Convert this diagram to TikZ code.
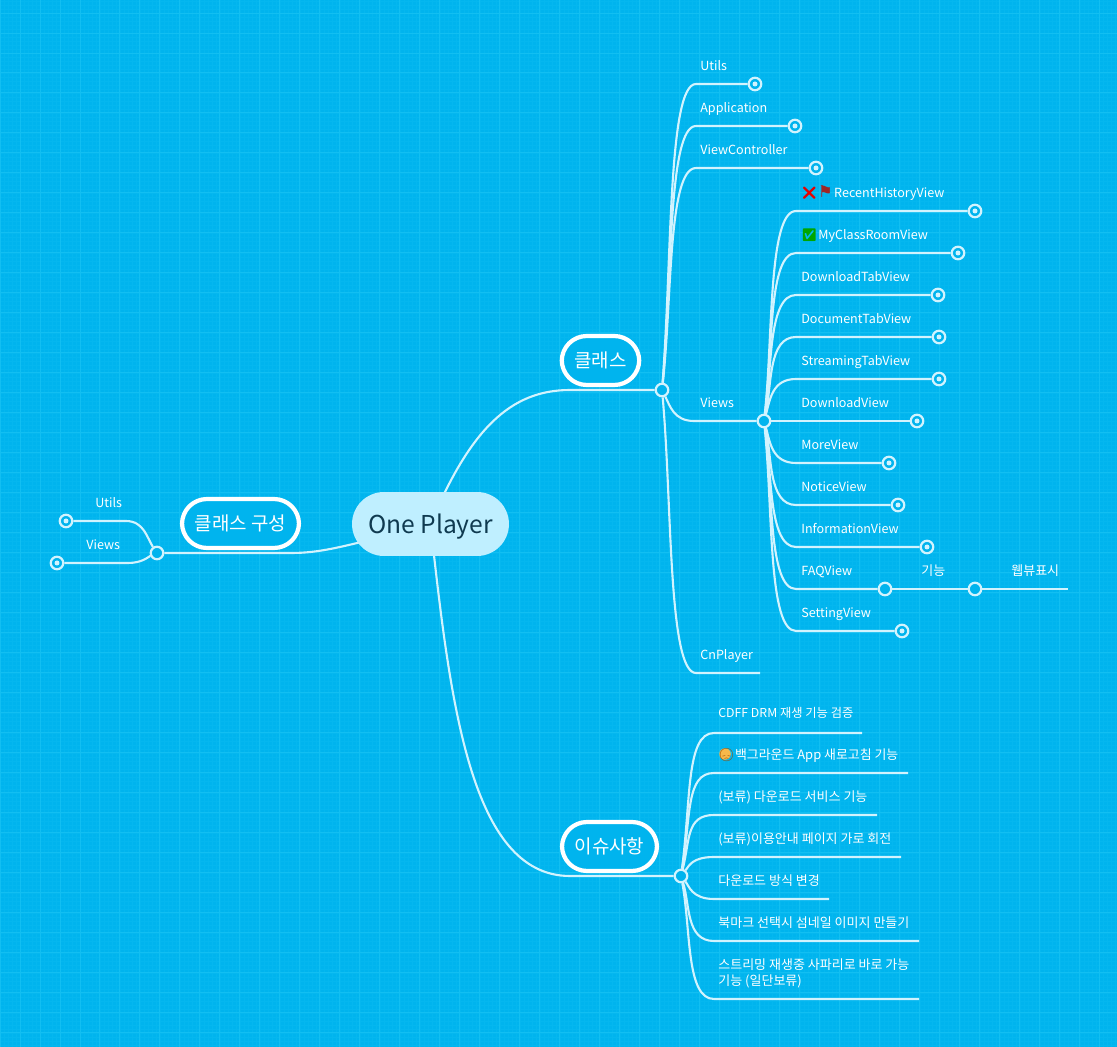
\documentclass[tikz,border=0pt]{standalone}
\usepackage{fontspec}
\setmainfont{Noto Sans CJK KR}
\newfontfamily\emojifont{Noto Emoji}
\newfontfamily\symbolfont[Scale=1.3]{DejaVu Sans}
\usetikzlibrary{backgrounds}
\definecolor{sheet}{HTML}{00B4EE}
\definecolor{gridmajor}{HTML}{12BFF2}
\definecolor{gridminor}{HTML}{05B7EF}
\definecolor{wire}{HTML}{D2F3FE}
\definecolor{rootfill}{HTML}{BFEFFF}
\definecolor{roottext}{HTML}{0F3A50}
\definecolor{sadfill}{HTML}{F7B84A}
\newcommand{\emoji}[2]{\textcolor{#1}{\emojifont #2}}

\begin{document}
\begin{tikzpicture} [x=0.02cm, y=-0.02cm,
  root/.style={rectangle, rounded corners=0.64cm, fill=rootfill, text=roottext, minimum width=3.14cm, minimum height=1.28cm, font=\fontsize{14}{16}\selectfont, text height=0.46cm, text depth=0.06cm},
  pill/.style={rectangle, rounded corners=0.5cm, draw=white, line width=2.4pt, fill=sheet, text=white, minimum height=0.98cm, font=\fontsize{10.8}{13}\selectfont},
  joint/.style={circle, draw=wire, line width=1.25pt, fill=sheet, minimum size=0.25cm, inner sep=0pt},
  leaf/.style={joint, path picture={\fill[wire] (path picture bounding box.center) circle (0.05cm);}},
  label/.style={anchor=west, inner sep=0pt, text=white, font=\fontsize{7.15}{9}\selectfont, text height=0.29cm, text depth=0.05cm},
  hangul/.style={label, font=\fontsize{7.4}{9}\selectfont},
  branch/.style={draw=wire, line width=1.2pt}]
  \useasboundingbox (0,0) rectangle (1117,1047);

  % Topics
  \node [root] (player) at (430.5,524) {One Player};
  \node [pill, minimum width=1.55cm] (classes) at (600.5,360.5) {클래스};
  \node [pill, minimum width=1.9cm] (issues) at (609.5,846.5) {이슈사항};
  \node [pill, minimum width=2.34cm] (layout) at (240.5,523.5) {클래스 구성};

  % Joints
  \node [joint] (classjoint) at (662,390) {};
  \node [joint] (viewsjoint) at (764,421) {};
  \node [joint] (issuejoint) at (681,876) {};
  \node [joint] (layoutjoint) at (157,553) {};
  \node [joint] (faqjoint) at (885,589) {};
  \node [joint] (funcjoint) at (975,589) {};

  % Class leaves
  \node [leaf] (utilsdot) at (755,84) {};
  \node [leaf] (appdot) at (795,126) {};
  \node [leaf] (controllerdot) at (816,168) {};
  \coordinate (playerend) at (760,673);
  \node [label] (utils) at (700,65) {Utils};
  \node [label] (app) at (700,107) {Application};
  \node [label] (controller) at (700,149) {ViewController};
  \node [label] (views) at (700,402) {Views};
  \node [label] (cnplayer) at (700,654) {CnPlayer};

  % View leaves
  \node [leaf] (recentdot) at (975,211) {};
  \node [leaf] (roomdot) at (958,253) {};
  \node [leaf] (downtabdot) at (938,295) {};
  \node [leaf] (doctabdot) at (939,337) {};
  \node [leaf] (streamdot) at (939,379) {};
  \node [leaf] (downdot) at (917,421) {};
  \node [leaf] (moredot) at (889,463) {};
  \node [leaf] (noticedot) at (898,505) {};
  \node [leaf] (infodot) at (927,547) {};
  \node [leaf] (settingdot) at (902,631) {};
  \coordinate (webend) at (1068,589);
  \node [label] (recent) at (801,192) {\emoji{red!90!black}{❌}\hspace{0.5pt}\textcolor{red!55!black!85!white}{\symbolfont ⚑}\hspace{0.8pt}RecentHistoryView};
  \node [label] (room) at (801,234) {\emoji{green!65!black}{✅}\hspace{0.6pt}MyClassRoomView};
  \node [label] (downtab) at (801,276) {DownloadTabView};
  \node [label] (doctab) at (801,318) {DocumentTabView};
  \node [label] (stream) at (801,360) {StreamingTabView};
  \node [label] (down) at (801,402) {DownloadView};
  \node [label] (more) at (801,444) {MoreView};
  \node [label] (notice) at (801,486) {NoticeView};
  \node [label] (info) at (801,528) {InformationView};
  \node [label] (faq) at (801,570) {FAQView};
  \node [hangul] (func) at (921,570) {기능};
  \node [hangul] (web) at (1011,570) {웹뷰표시};
  \node [label] (setting) at (801,612) {SettingView};

  % Issue leaves
  \coordinate (drmend) at (862,733);
  \coordinate (refreshend) at (908,773);
  \coordinate (serviceend) at (877,815);
  \coordinate (rotateend) at (901,857);
  \coordinate (methodend) at (829,899);
  \coordinate (thumbend) at (919,941);
  \coordinate (safariend) at (919,999);
  \node [circle, fill=sadfill, minimum size=0.23cm, inner sep=0pt] (refreshface) at (725,754) {};
  \node [hangul, font=\fontsize{7}{9}\selectfont] (drm) at (718,712) {CDFF DRM 재생 기능 검증};
  \node [hangul, font=\fontsize{7.35}{9}\selectfont] (refresh) at (718,754) {\emoji{orange!60!black}{😞}\hspace{0.2pt}백그라운드 App 새로고침 기능};
  \node [hangul] (service) at (718,796) {(보류) 다운로드 서비스 기능};
  \node [hangul] (rotate) at (718,838) {(보류)이용안내 페이지 가로 회전};
  \node [hangul] (method) at (718,880) {다운로드 방식 변경};
  \node [hangul] (thumb) at (718,922) {북마크 선택시 섬네일 이미지 만들기};
  \node [hangul, text height=, text depth=, align=left, yshift=-0.02cm] (safari) at (718,972) {스트리밍 재생중 사파리로 바로 가능\\기능 (일단보류)};

  % Layout leaves
  \node [leaf] (layoututilsdot) at (66,521) {};
  \node [leaf] (layoutviewsdot) at (57,563) {};
  \node [label] (layoututils) at (95,502) {Utils};
  \node [label] (layoutviews) at (86,544) {Views};

  \begin{scope}[on background layer]
    % Sheet
    \fill [sheet] (0,0) rectangle (1117,1047);
    \draw [gridminor, line width=0.35pt, step=0.08cm, shift={(0,1)}] (0,-1) grid (1117,1046);
    \draw [gridmajor, line width=0.55pt, step=0.4cm, shift={(0,13)}] (0,-13) grid (1117,1034);

    % Main edges
    \draw [branch] (player.center) .. controls (470,430) and (510,390) .. (570,390) -- (classjoint);
    \draw [branch] (player.center) .. controls (450,700) and (470,876) .. (570,876) -- (issuejoint);
    \draw [branch] (player.center) .. controls (340,548) and (320,553) .. (290,553) -- (layoutjoint);

    % Class edges
    \draw [branch] (classjoint) .. controls (672,260) and (668,84) .. (696,84) -- (utilsdot);
    \draw [branch] (classjoint) .. controls (672,280) and (668,126) .. (696,126) -- (appdot);
    \draw [branch] (classjoint) .. controls (672,300) and (668,168) .. (696,168) -- (controllerdot);
    \draw [branch] (classjoint) .. controls (670,406) and (674,421) .. (694,421) -- (viewsjoint);
    \draw [branch] (classjoint) .. controls (672,500) and (668,673) .. (696,673) -- (playerend);

    % View edges
    \draw [branch] (viewsjoint) .. controls (773,340) and (768,211) .. (796,211) -- (recentdot);
    \draw [branch] (viewsjoint) .. controls (773,350) and (768,253) .. (796,253) -- (roomdot);
    \draw [branch] (viewsjoint) .. controls (772,370) and (768,295) .. (796,295) -- (downtabdot);
    \draw [branch] (viewsjoint) .. controls (772,385) and (768,337) .. (796,337) -- (doctabdot);
    \draw [branch] (viewsjoint) .. controls (770,400) and (772,379) .. (796,379) -- (streamdot);
    \draw [branch] (viewsjoint) -- (downdot);
    \draw [branch] (viewsjoint) .. controls (770,442) and (772,463) .. (796,463) -- (moredot);
    \draw [branch] (viewsjoint) .. controls (772,455) and (768,505) .. (796,505) -- (noticedot);
    \draw [branch] (viewsjoint) .. controls (772,470) and (768,547) .. (796,547) -- (infodot);
    \draw [branch] (viewsjoint) .. controls (773,490) and (768,589) .. (796,589) -- (faqjoint);
    \draw [branch] (faqjoint) -- (funcjoint);
    \draw [branch] (funcjoint) -- (webend);
    \draw [branch] (viewsjoint) .. controls (773,510) and (768,631) .. (796,631) -- (settingdot);

    % Issue edges
    \draw [branch] (issuejoint) .. controls (691,800) and (686,733) .. (714,733) -- (drmend);
    \draw [branch] (issuejoint) .. controls (691,815) and (686,773) .. (714,773) -- (refreshend);
    \draw [branch] (issuejoint) .. controls (690,840) and (686,815) .. (714,815) -- (serviceend);
    \draw [branch] (issuejoint) .. controls (689,866) and (692,857) .. (714,857) -- (rotateend);
    \draw [branch] (issuejoint) .. controls (689,886) and (692,899) .. (714,899) -- (methodend);
    \draw [branch] (issuejoint) .. controls (690,905) and (686,941) .. (714,941) -- (thumbend);
    \draw [branch] (issuejoint) .. controls (691,930) and (686,999) .. (714,999) -- (safariend);

    % Layout edges
    \draw [branch] (layoutjoint) .. controls (147,538) and (144,521) .. (126,521) -- (layoututilsdot);
    \draw [branch] (layoutjoint) .. controls (148,557) and (142,563) .. (128,563) -- (layoutviewsdot);
  \end{scope}
\end{tikzpicture}
\end{document}
